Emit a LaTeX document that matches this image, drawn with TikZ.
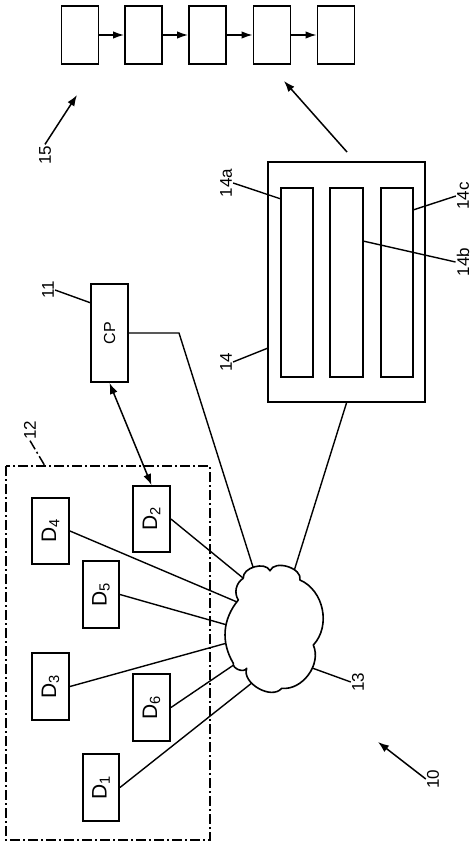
\documentclass[tikz,border=0pt]{standalone}
\usepackage{fontspec}
\setmainfont{Liberation Sans}
\usepackage{graphicx}
\usetikzlibrary{arrows.meta}
\begin{document}
\begin{tikzpicture}[x=1pt,y=-1pt,
  box/.style={draw, line width=1.9pt, inner sep=0pt, rectangle},
  conn/.style={line width=1.4pt},
  lbl/.style={rotate=90, inner sep=1pt, font=\fontsize{17}{17}\selectfont},
  dlbl/.style={font=\fontsize{21}{21}\selectfont},
  arr/.style={line width=1.5pt, -{Latex[length=11pt,width=8pt]}},
  sarr/.style={line width=1.5pt, -{Latex[length=11pt,width=7.5pt]}},
  dashdot/.style={line width=1.5pt, dash pattern=on 10pt off 3pt on 2pt off 3pt},
]
\useasboundingbox (0,0) rectangle (474,847);

% chain of boxes (15)
\node[box, minimum width=37pt, minimum height=58pt] (s1) at (80,35) {};
\node[box, minimum width=37pt, minimum height=58pt] (s2) at (143.5,35) {};
\node[box, minimum width=37pt, minimum height=58pt] (s3) at (207.5,35) {};
\node[box, minimum width=37pt, minimum height=58pt] (s4) at (272,35) {};
\node[box, minimum width=37pt, minimum height=58pt] (s5) at (336,35) {};
\draw[sarr] (s1) -- (s2);
\draw[sarr] (s2) -- (s3);
\draw[sarr] (s3) -- (s4);
\draw[sarr] (s4) -- (s5);

\node[lbl] (l15) at (45,155) {15};
\coordinate (a15) at (77,95);
\draw[arr] (l15.east) -- (a15);

% box 14
\node[box, minimum width=157pt, minimum height=240pt] (b14) at (346.5,282) {};
\node[box, minimum width=32pt, minimum height=189pt] (b14a) at (297,282.5) {};
\node[box, minimum width=33pt, minimum height=189pt] (b14b) at (346.5,282.5) {};
\node[box, minimum width=32pt, minimum height=189pt] (b14c) at (397,282.5) {};
\coordinate (t14s) at (347,152);
\coordinate (t14e) at (284,81);
\draw[arr] (t14s) -- (t14e);

\node[lbl] (l14a) at (226,183) {14a};
\node[lbl] (l14b) at (463,262) {14b};
\node[lbl] (l14c) at (463,196) {14c};
\node[lbl] (l14) at (226,362) {14};
\coordinate (p14a) at (281,199);
\coordinate (p14b) at (363,241);
\coordinate (p14c) at (413,210);
\coordinate (p14) at (268,348);
\draw[conn] (l14a.south) -- (p14a);
\draw[conn] (l14b.north) -- (p14b);
\draw[conn] (l14c.north) -- (p14c);
\draw[conn] (l14.south) -- (p14);

% CP
\node[box, minimum width=37pt, minimum height=98pt, font=\fontsize{16}{16}\selectfont] (cp) at (109.5,333) {\rotatebox{90}{CP}};
\node[lbl] (l11) at (48,290) {11};
\coordinate (p11) at (91,303);
\draw[conn] (l11.south) -- (p11);

% group 12
\draw[dashdot] (6,466) rectangle (210,840);
\node[lbl] (l12) at (30,430) {12};
\coordinate (p12) at (45,466);
\draw[dashdot] (l12.west) -- (p12);

% devices
\node[box, dlbl, minimum width=37pt, minimum height=66pt] (d4) at (50.5,531) {\rotatebox{90}{D\textsubscript{4}}};
\node[box, dlbl, minimum width=37pt, minimum height=66pt] (d2) at (151.5,519) {\rotatebox{90}{D\textsubscript{2}}};
\node[box, dlbl, minimum width=36pt, minimum height=67pt] (d5) at (101,594.5) {\rotatebox{90}{D\textsubscript{5}}};
\node[box, dlbl, minimum width=37pt, minimum height=67pt] (d3) at (50.5,686.5) {\rotatebox{90}{D\textsubscript{3}}};
\node[box, dlbl, minimum width=37pt, minimum height=67pt] (d6) at (151.5,707.5) {\rotatebox{90}{D\textsubscript{6}}};
\node[box, dlbl, minimum width=36pt, minimum height=67pt] (d1) at (101,787.5) {\rotatebox{90}{D\textsubscript{1}}};

\draw[line width=1.5pt, {Latex[length=11pt,width=8pt]}-{Latex[length=11pt,width=8pt]}] (cp.south) -- (d2.north);

% cloud attachment points (slightly inside; the cloud's fill covers the ends)
\coordinate (kcp) at (254.8,572.7);
\coordinate (k14) at (293.2,573.7);
\coordinate (kd2) at (247.7,581.8);
\coordinate (kd4) at (242.5,604.3);
\coordinate (kd5) at (232.8,626.6);
\coordinate (kd3) at (232.8,641.4);
\coordinate (kd6) at (240,660.7);
\coordinate (kd1) at (252.7,682.3);
\coordinate (k13) at (309.4,667);
\coordinate (cpturn) at (179,333);

\draw[conn] (cp.east) -- (cpturn) -- (kcp);
\draw[conn] (b14.south) -- (k14);
\draw[conn] (d2.east) -- (kd2);
\draw[conn] (d4.east) -- (kd4);
\draw[conn] (d5.east) -- (kd5);
\draw[conn] (d3.east) -- (kd3);
\draw[conn] (d6.east) -- (kd6);
\draw[conn] (d1.east) -- (kd1);
\node[lbl] (l13) at (358,682) {13};
\draw[conn] (l13.north) -- (k13);

% cloud 13
\draw[line width=1.6pt, fill=white, line join=round] (243.3,578.3) to[bend left=80] (270,570.7)
  to[bend left=85] (300,580) to[bend left=55] (313.3,645)
  to[bend left=60] (281.7,688.3) to[bend left=80] (246.7,668.3)
  to[bend left=80] (233.3,663.3) to[bend left=35] (238.3,600)
  to[bend left=45] (243.3,578.3);

\node[lbl] (l10) at (433,779) {10};
\coordinate (a10) at (378,742);
\draw[arr] (l10.north) -- (a10);
\end{tikzpicture}
\end{document}
